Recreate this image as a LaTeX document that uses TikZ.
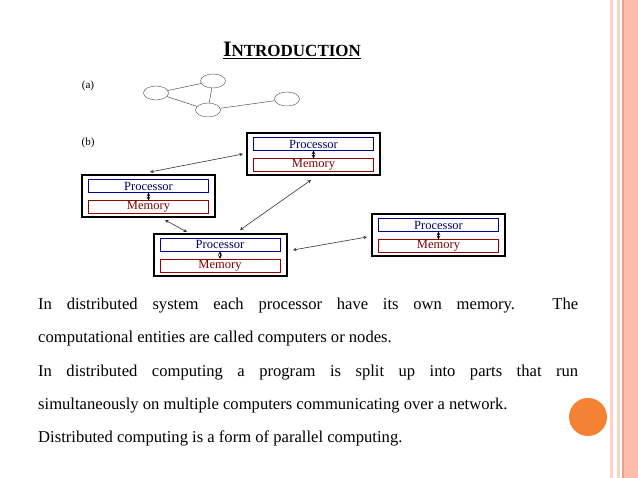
\documentclass[tikz,border=0pt]{standalone}
\usepackage{fontspec}
\setmainfont{Liberation Serif}
\usetikzlibrary{shapes.geometric}
\definecolor{stripeA}{RGB}{251,210,195}
\definecolor{stripeB}{RGB}{250,190,170}
\definecolor{stripeC}{RGB}{235,160,140}
\definecolor{dot}{RGB}{245,130,50}
\begin{document}
\begin{tikzpicture}[x=1pt,y=-1pt,
 outer/.style={draw=black,line width=2pt,inner sep=0pt},
 pbox/.style={draw=blue!60!black,fill=white,minimum width=120pt,minimum height=13pt,inner sep=0pt,font=\fontsize{12.5}{12}\selectfont,text=blue!40!black},
 mbox/.style={draw=red!60!black,fill=white,minimum width=120pt,minimum height=13pt,inner sep=0pt,font=\fontsize{12.5}{12}\selectfont,text=red!50!black},
 circ/.style={draw=black!70,ellipse,minimum width=25pt,minimum height=14pt,inner sep=0pt},
 link/.style={<->,>=stealth,black!80,line width=0.6pt},
 body/.style={anchor=base west,font=\fontsize{16.6}{16}\selectfont,inner sep=0pt}]
\useasboundingbox (0,0) rectangle (638,478);
\fill[white] (0,0) rectangle (638,478);
% right stripes
\fill[stripeA] (610,0) rectangle (613,478);
\fill[stripeA] (617,0) rectangle (620,478);
\fill[stripeB] (622,0) rectangle (638,478);
\fill[stripeC] (622,0) rectangle (624,478);
% title
\node[font=\bfseries\fontsize{22}{22}\selectfont,anchor=base,inner sep=0pt] (title) at (292,57) {\underline{I\fontsize{17}{17}\selectfont NTRODUCTION}};
% (a)
\node[font=\fontsize{11}{11}\selectfont] (la) at (88,86) {(a)};
\node[circ] (c1) at (156,93) {};
\node[circ] (c2) at (213,81) {};
\node[circ] (c3) at (208,110) {};
\node[circ] (c4) at (287,99) {};
\draw[black!80] (c1) -- (c2) (c1) -- (c3) (c2) -- (c3) (c3) -- (c4);
% (b)
\node[font=\fontsize{11}{11}\selectfont] (lb) at (88,143) {(b)};
\foreach \n/\x/\y in {T/313.5/154.5, L/148.5/196.5, M/220/255, R/438.5/235.5}{
 \node[outer,minimum width=133pt,minimum height=42pt] (\n) at (\x,\y) {};
 \node[pbox] (\n p) at (\x,\y-10.5) {Processor};
 \node[mbox] (\n m) at (\x,\y+10.5) {Memory};
 \draw[<->,>=stealth,line width=0.6pt] (\n p.south) -- (\n m.north);
}
\coordinate (a1) at (150,172); \coordinate (a2) at (243,154);
\coordinate (b1) at (311,180); \coordinate (b2) at (240,230);
\coordinate (d1) at (165,220); \coordinate (d2) at (187,232);
\coordinate (e1) at (293,250); \coordinate (e2) at (367,237);
\draw[link] (a1) -- (a2);
\draw[link] (b1) -- (b2);
\draw[link] (d1) -- (d2);
\draw[link] (e1) -- (e2);
% text
\node[body] (t1) at (38,310) {\makebox[540pt][s]{In distributed system each processor have its own memory. The}};
\node[body] (t2) at (38,343) {computational entities are called computers or nodes.};
\node[body] (t3) at (38,377) {\makebox[540pt][s]{In distributed computing a program is split up into parts that run}};
\node[body] (t4) at (38,410) {simultaneously on multiple computers communicating over a network.};
\node[body] (t5) at (38,443) {Distributed computing is a form of parallel computing.};
\fill[dot] (588,417) circle (19);
\end{tikzpicture}
\end{document}
